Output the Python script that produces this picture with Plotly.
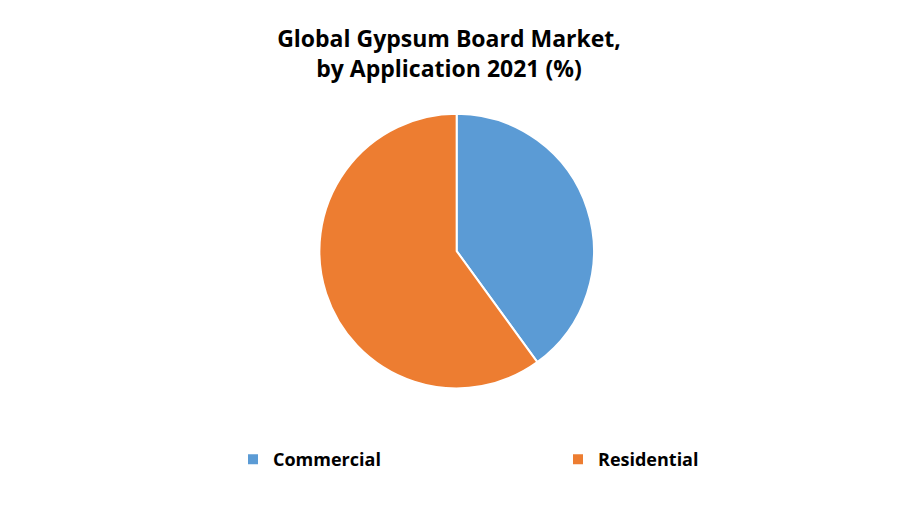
import plotly.graph_objects as go

labels = ['Commercial', 'Residential']
values = [40, 60]
colors = ['#5B9BD5', '#ED7D31']

fig = go.Figure()
fig.add_trace(go.Pie(
    labels=labels, values=values,
    marker=dict(colors=colors, line=dict(color='white', width=2)),
    sort=False, direction='clockwise', rotation=0,
    textinfo='none', hoverinfo='label+percent',
    domain=dict(x=[0.346, 0.651], y=[0.274, 0.8])))

fig.update_layout(
    width=900, height=525,
    margin=dict(l=0, r=0, t=0, b=0),
    paper_bgcolor='white',
    title=dict(text='<b>Global Gypsum Board Market,<br>by Application 2021 (%)</b>',
               x=0.49, xanchor='center', y=0.925, yanchor='middle',
               font=dict(family='Open Sans', size=23, color='black')),
    legend=dict(orientation='h', x=0.25, xanchor='left',
                y=0.14, yanchor='middle',
                entrywidth=280, entrywidthmode='pixels',
                itemwidth=30,
                font=dict(family='Open Sans', size=18, color='black')),
)
fig.for_each_trace(lambda t: t.update(labels=['<b>%s</b>' % l for l in labels]))

fig.write_html("out.html")
